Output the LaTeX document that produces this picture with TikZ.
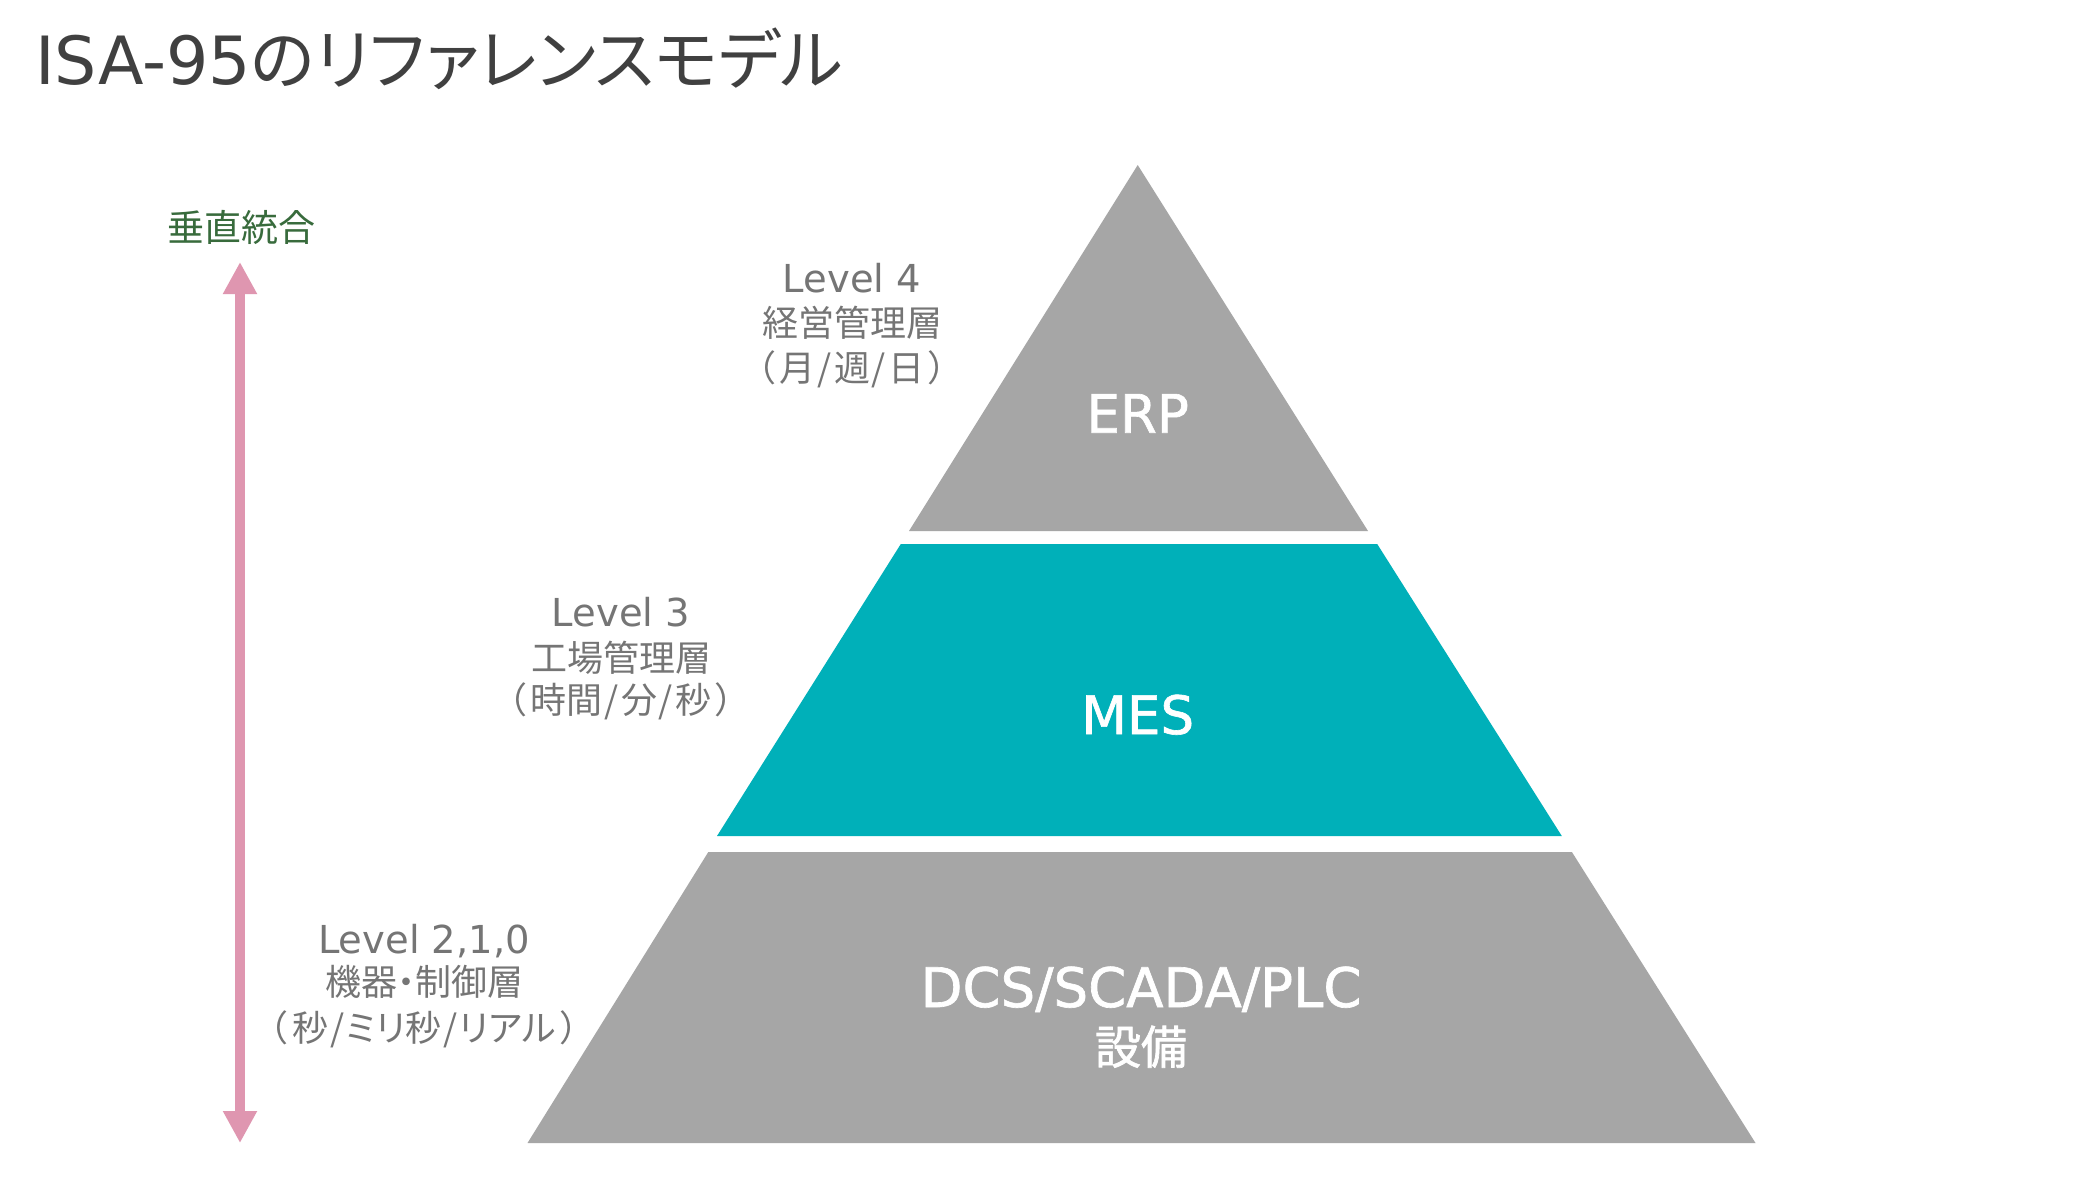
\documentclass[tikz,border=0pt]{standalone}
\usepackage{fontspec}
\usetikzlibrary{arrows.meta}
\newfontfamily\cjk[RawFeature={+palt}]{Noto Sans CJK JP}
\newfontfamily\cjkb[RawFeature={+palt},FakeBold=1.5]{Noto Sans CJK JP}
\newfontfamily\lat{DejaVu Sans}
\newfontfamily\latb[FakeBold=1.2]{DejaVu Sans}
\definecolor{grayc}{HTML}{A6A6A6}
\definecolor{tealc}{HTML}{00B0B9}
\definecolor{pinkc}{HTML}{DF96B0}
\definecolor{greenc}{HTML}{386B3C}
\definecolor{labelc}{HTML}{757575}
\definecolor{titlec}{HTML}{404040}
\newcommand\myLp{（\kern5pt}
\newcommand\myRp{\kern5pt）}
\newcommand\mySl{\kern2pt/\kern2pt}
\tikzset{
  txt/.style={inner sep=0pt, anchor=base},
  lvlat/.style={txt, text=labelc, font=\lat\fontsize{38.5}{44}\selectfont},
  lvcjk/.style={txt, text=labelc, font=\cjk\fontsize{36}{42}\selectfont},
  whitebold/.style={txt, text=white, font=\latb\fontsize{53}{60}\selectfont},
}
\begin{document}
\begin{tikzpicture}[x=1pt,y=-1pt]
\fill[white] (0,0) rectangle (2100,1176);
\useasboundingbox (0,0) rectangle (2100,1176);
% title
\node[txt, anchor=base west, text=titlec, font=\fontsize{66.5}{78}\selectfont] (title) at (35,84.3) {{\lat ISA-95}{\cjk のリファレンスモデル}};
% vertical integration arrow
\node[txt, text=greenc, font=\cjk\fontsize{37}{44}\selectfont] (vi) at (241,241.5) {垂直統合};
\coordinate (atop) at (240,262);
\coordinate (abot) at (240,1143);
\draw[pinkc, line width=9.5pt, {Triangle[width=32pt,length=32pt]}-{Triangle[width=32pt,length=32pt]}] (atop) -- (abot);
% pyramid
\fill[grayc] (1137.7,165) -- (909,531) -- (1368,531) -- cycle;
\fill[tealc] (900.8,544) -- (1377.2,544) -- (1561.8,836) -- (717,836) -- cycle;
\fill[grayc] (708.3,852) -- (1571.9,852) -- (1755.5,1143) -- (527.5,1143) -- cycle;
\node[whitebold] (erp) at (1137.7,432.7) {ERP};
\node[whitebold] (mes) at (1137.7,734) {MES};
\node[whitebold, font=\latb\fontsize{54.5}{60}\selectfont] (dcs) at (1141,1007) {DCS/SCADA/PLC};
\node[txt, text=white, font=\cjkb\fontsize{46}{54}\selectfont] (eq) at (1141,1064) {設備};
% level labels
\node[lvlat] (l4a) at (852,292.9) {Level 4};
\node[lvcjk] (l4b) at (852,336.7) {経営管理層};
\node[lvcjk] (l4c) at (852,381.7) {\myLp 月\mySl 週\mySl 日\myRp};
\node[lvlat] (l3a) at (621,626.7) {Level 3};
\node[lvcjk] (l3b) at (621,671.7) {工場管理層};
\node[lvcjk] (l3c) at (621,713) {\myLp 時間\mySl 分\mySl 秒\myRp};
\node[lvlat] (l2a) at (424,953) {Level 2,1,0};
\node[lvcjk] (l2b) at (424,995.7) {機器・制御層};
\node[lvcjk] (l2c) at (424,1041.7) {\myLp 秒\mySl ミリ秒\mySl リアル\myRp};
\end{tikzpicture}
\end{document}
